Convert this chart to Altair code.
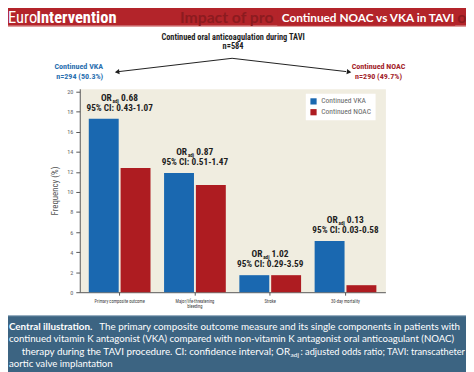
import altair as alt
import pandas as pd

# ---------------- data ----------------
categories = ["Primary composite outcome", "Major/life-threatening bleeding", "Stroke", "30-day mortality"]
series_names = ["Continued VKA", "Continued NOAC"]
vka_values = [17.3, 11.9, 1.7, 5.1]
noac_values = [12.4, 10.7, 1.7, 0.7]
or_values = ["0.68", "0.87", "1.02", "0.13"]
ci_values = ["0.43-1.07", "0.51-1.47", "0.29-3.59", "0.03-0.58"]
y_ticks = [0, 2, 4, 6, 8, 10, 12, 14, 16, 18, 20]

caption_lines = [
    "continued vitamin K antagonist (VKA) compared with non-vitamin K antagonist oral anticoagulant (NOAC)",
    "aortic valve implantation",
]

bars_df = pd.DataFrame({
    "category": categories * 2,
    "series": [s for s in series_names for _ in categories],
    "value": vka_values + noac_values,
})
ann_df = pd.DataFrame({
    "category": categories,
    "top": vka_values,
    "or_txt": or_values,
    "ci_txt": ["95% CI: " + c for c in ci_values],
})
dummy = pd.DataFrame({"_": [0]})

# ---------------- styles ----------------
NARROW = "'Roboto Condensed', Roboto, sans-serif"
SANS = "Lato, 'Open Sans', sans-serif"
BLUE = "#1a68b0"
RED = "#ae1c21"
HEADER_RED = "#b3242a"
CAPTION_BLUE = "#3c6482"
DARK = "#1e1e1e"

OX, OY = 81, 87  # page position of plot origin


def px(x):
    return x - OX


def py(y):
    return y - OY


def label(text, x, y, size, color, weight="normal", align="center", font=NARROW, baseline="middle"):
    return alt.Chart(dummy).mark_text(
        text=text, fontSize=size, color=color, fontWeight=weight,
        align=align, baseline=baseline, font=font,
    ).encode(x=alt.value(px(x)), y=alt.value(py(y)))


def box(x1, x2, y1, y2, color):
    return alt.Chart(dummy).mark_rect(color=color).encode(
        x=alt.value(px(x1)), x2=alt.value(px(x2)), y=alt.value(py(y1)), y2=alt.value(py(y2))
    )


def line(x1, y1, x2, y2, color=DARK, width=1.0):
    return alt.Chart(dummy).mark_rule(color=color, strokeWidth=width).encode(
        x=alt.value(px(x1)), x2=alt.value(px(x2)), y=alt.value(py(y1)), y2=alt.value(py(y2))
    )


def arrowhead(x, y, shape, angle):
    return alt.Chart(dummy).mark_point(shape=shape, filled=True, size=28, angle=angle, color=DARK, opacity=1).encode(
        x=alt.value(px(x)), y=alt.value(py(y))
    )


# ---------------- scales / encodings ----------------
x_axis = alt.Axis(
    title=None, labelAngle=0, labelFont=NARROW, labelFontSize=4.6, labelColor="#444",
    labelPadding=3, tickSize=3, tickColor="#555", domainColor="#555", labelLineHeight=6,
    labelExpr="datum.value == 'Major/life-threatening bleeding' ? ['Major/life-threatening', 'bleeding'] : datum.label",
)
x_enc = alt.X("category:N", sort=categories,
              scale=alt.Scale(domain=categories, paddingInner=0.18, paddingOuter=0.12),
              axis=x_axis)
y_axis = alt.Axis(
    title="Frequency (%)", values=y_ticks, grid=False, labelFont=NARROW, labelFontSize=6.3,
    labelColor="#666", tickSize=4, tickColor="#555", domainColor="#555", labelPadding=3,
    titleFont=NARROW, titleFontSize=9, titleFontWeight="normal", titleColor="#555",
    titleX=-26, titleBaseline="middle",
)
y_scale = alt.Scale(domain=[0, 20.3], nice=False)

bars = alt.Chart(bars_df).mark_bar().encode(
    x=x_enc,
    xOffset=alt.XOffset("series:N", sort=series_names, scale=alt.Scale(domain=series_names, paddingInner=0.06)),
    y=alt.Y("value:Q", scale=y_scale, axis=y_axis),
    color=alt.Color("series:N", scale=alt.Scale(domain=series_names, range=[BLUE, RED]),
                    legend=alt.Legend(
                        title=None, orient="none", legendX=px(311), legendY=py(92),
                        fillColor="white", padding=4, symbolType="square", symbolSize=40,
                        symbolStrokeWidth=0, labelFont=NARROW, labelFontSize=7.7, labelColor="#666",
                        rowPadding=2, labelOffset=4,
                    )),
)

ann_y = alt.Y("top:Q", scale=y_scale, axis=y_axis)
ann_style = dict(font=NARROW, fontWeight="bold", color=DARK, baseline="middle")
or_lab = alt.Chart(ann_df).mark_text(text="OR", align="right", dx=-8, dy=-21, fontSize=9.6, **ann_style).encode(x=x_enc, y=ann_y)
adj_lab = alt.Chart(ann_df).mark_text(text="adj", align="center", dx=-4, dy=-18.6, fontSize=5.2, **ann_style).encode(x=x_enc, y=ann_y)
or_val = alt.Chart(ann_df).mark_text(align="left", dx=1.3, dy=-21, fontSize=9.6, **ann_style).encode(x=x_enc, y=ann_y, text="or_txt:N")
ci_lab = alt.Chart(ann_df).mark_text(align="center", dy=-11, fontSize=9.4, **ann_style).encode(x=x_enc, y=ann_y, text="ci_txt:N")

# ---------------- decorations ----------------
header = [
    box(0, 480, 0, 23, HEADER_RED),
    line(0, 23.5, 480, 23.5, "#d98a8a", 1),
    label("Euro", 8, 20, 16.8, "white", align="left", baseline="alphabetic"),
    label("Intervention", 37, 20, 16.8, "white", weight="bold", align="left", baseline="alphabetic"),
    label("Impact of pro", 183, 20, 16, "#8c1b1f", weight="bold", align="left", font=SANS, baseline="alphabetic"),
    box(282, 463, 0, 23, HEADER_RED),
    label("Continued NOAC vs VKA in TAVI", 462, 19, 12, "white", weight="bold", align="right", font=SANS, baseline="alphabetic"),
    label("o", 465, 20, 16, "#8c1b1f", weight="bold", align="left", font=SANS, baseline="alphabetic"),
]

top = [
    label("Continued oral anticoagulation during TAVI", 237, 34, 8.5, DARK, weight="bold"),
    label("n=584", 237, 44, 8.5, DARK, weight="bold"),
    line(236, 56, 121, 69.5),
    line(236, 56, 352, 69.5),
    arrowhead(119, 69.8, "triangle-left", 353),
    arrowhead(355, 69.8, "triangle-right", 7),
    label("Continued VKA", 80, 65, 8.2, "#2a70b0", weight="bold"),
    label("n=294 (50.3%)", 81, 75, 8.2, "#2a70b0", weight="bold"),
    label("Continued NOAC", 385, 65, 8.2, "#a3232a", weight="bold"),
    label("n=290 (49.7%)", 385, 75, 8.2, "#a3232a", weight="bold"),
]

caption = [
    box(0, 480, 318, 380, CAPTION_BLUE),
    line(0, 318, 480, 318, "#7f9cb3", 1),
    label("Central illustration.", 9, 329, 10, "white", weight="bold", align="left", font=SANS),
    label("The primary composite outcome measure and its single components in patients with", 468, 329, 10, "white", align="right", font=SANS),
    label(caption_lines[0], 9, 342, 9.8, "white", align="left", font=SANS),
    label("therapy during the TAVI procedure. CI: confidence interval; OR", 295, 355, 10, "white", align="right", font=SANS),
    label("adj", 295.5, 357.5, 6.6, "white", align="left", font=SANS),
    label(": adjusted odds ratio; TAVI: transcatheter", 305.5, 355, 9.4, "white", align="left", font=SANS),
    label(caption_lines[1], 9, 367, 9.8, "white", align="left", font=SANS),
]

chart = alt.layer(
    *header, *top, *caption, bars, or_lab, adj_lab, or_val, ci_lab
).properties(
    width=311, height=207,
    autosize=alt.AutoSizeParams(type="none"),
    padding={"left": 73, "top": 79, "right": 82, "bottom": 78},
    background="white",
).configure_view(
    fill="#f0ede0", stroke="transparent"
)

chart.save("out.html", embed_options={"renderer": "svg", "actions": False})
